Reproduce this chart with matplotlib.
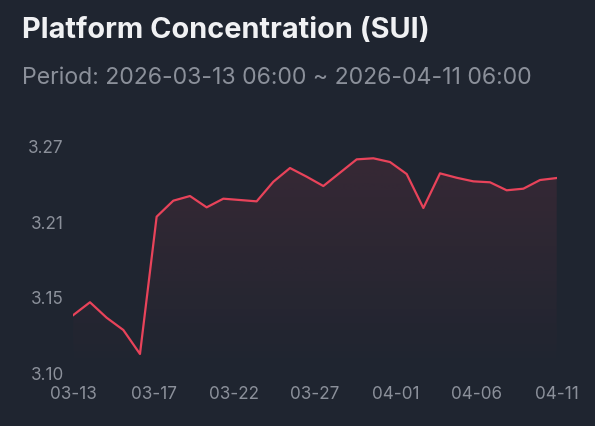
import numpy as np
import matplotlib
matplotlib.use("Agg")
import matplotlib.pyplot as plt
from matplotlib.colors import to_rgb

# ---- data ----
dates = ["03-13", "03-14", "03-15", "03-16", "03-17", "03-18", "03-19", "03-20",
         "03-21", "03-22", "03-23", "03-24", "03-25", "03-26", "03-27", "03-28",
         "03-29", "03-30", "03-31", "04-01", "04-02", "04-03", "04-04", "04-05",
         "04-06", "04-07", "04-08", "04-09", "04-10", "04-11"]
values = [3.1437, 3.1533, 3.1417, 3.1325, 3.1145, 3.2175, 3.2295, 3.2330,
          3.2245, 3.2310, 3.2300, 3.2290, 3.2437, 3.2540, 3.2475, 3.2405,
          3.2505, 3.2605, 3.2613, 3.2585, 3.2495, 3.2240, 3.2500, 3.2467,
          3.2440, 3.2433, 3.2373, 3.2385, 3.2450, 3.2465]
y_tick_labels = ["3.10", "3.15", "3.21", "3.27"]
y_min, y_max = 3.10, 3.27
title = "Platform Concentration (SUI)"
subtitle = "Period: 2026-03-13 06:00 ~ 2026-04-11 06:00"

BG = "#1f2530"
LINE = "#e8435a"
TICK = "#8b909a"
FONT = "Inter"

plt.rcParams["font.family"] = [FONT, "DejaVu Sans"]

fig = plt.figure(figsize=(5.95, 4.26), dpi=100, facecolor=BG)
ax = fig.add_axes([73.3 / 595, (426 - 373.3) / 426, 483.4 / 595, 226.6 / 426])
ax.set_facecolor(BG)

x = np.arange(len(values))
y = np.array(values)

ax.set_xlim(0, len(values) - 1)
ax.set_ylim(y_min, y_max)

# gradient fill under the line
poly = ax.fill_between(x, y, y_min, color="none", lw=0)
rgb = to_rgb(LINE)
grad = np.zeros((256, 1, 4))
grad[:, 0, 0:3] = rgb
grad[:, 0, 3] = np.linspace(0.12, 0.0, 256)
top = y.max()
im = ax.imshow(grad, extent=[0, len(values) - 1, y_min, top], origin="upper",
               aspect="auto", zorder=1, interpolation="bilinear")
im.set_clip_path(poly.get_paths()[0], transform=ax.transData)

ax.plot(x, y, color=LINE, lw=1.6, zorder=3, solid_joinstyle="round")

for s in ax.spines.values():
    s.set_visible(False)

ax.set_yticks(np.linspace(y_min, y_max, len(y_tick_labels)))
ax.set_yticklabels(y_tick_labels)
xt = np.linspace(0, len(dates) - 1, 7)
ax.set_xticks(xt)
ax.set_xticklabels([dates[int(t)] for t in xt])
ax.tick_params(axis="both", length=0, colors=TICK, labelsize=12.3)
ax.tick_params(axis="y", pad=6.7)
ax.tick_params(axis="x", pad=9)

fig.text(22 / 595, 1 - 37.7 / 426, title, color="#f0f1f3", fontsize=20.8,
         fontweight="bold", va="baseline", ha="left")
fig.text(22.5 / 595, 1 - 84 / 426, subtitle, color=TICK, fontsize=16.6,
         va="baseline", ha="left")

fig.savefig("out.png", dpi=100, facecolor=BG)
